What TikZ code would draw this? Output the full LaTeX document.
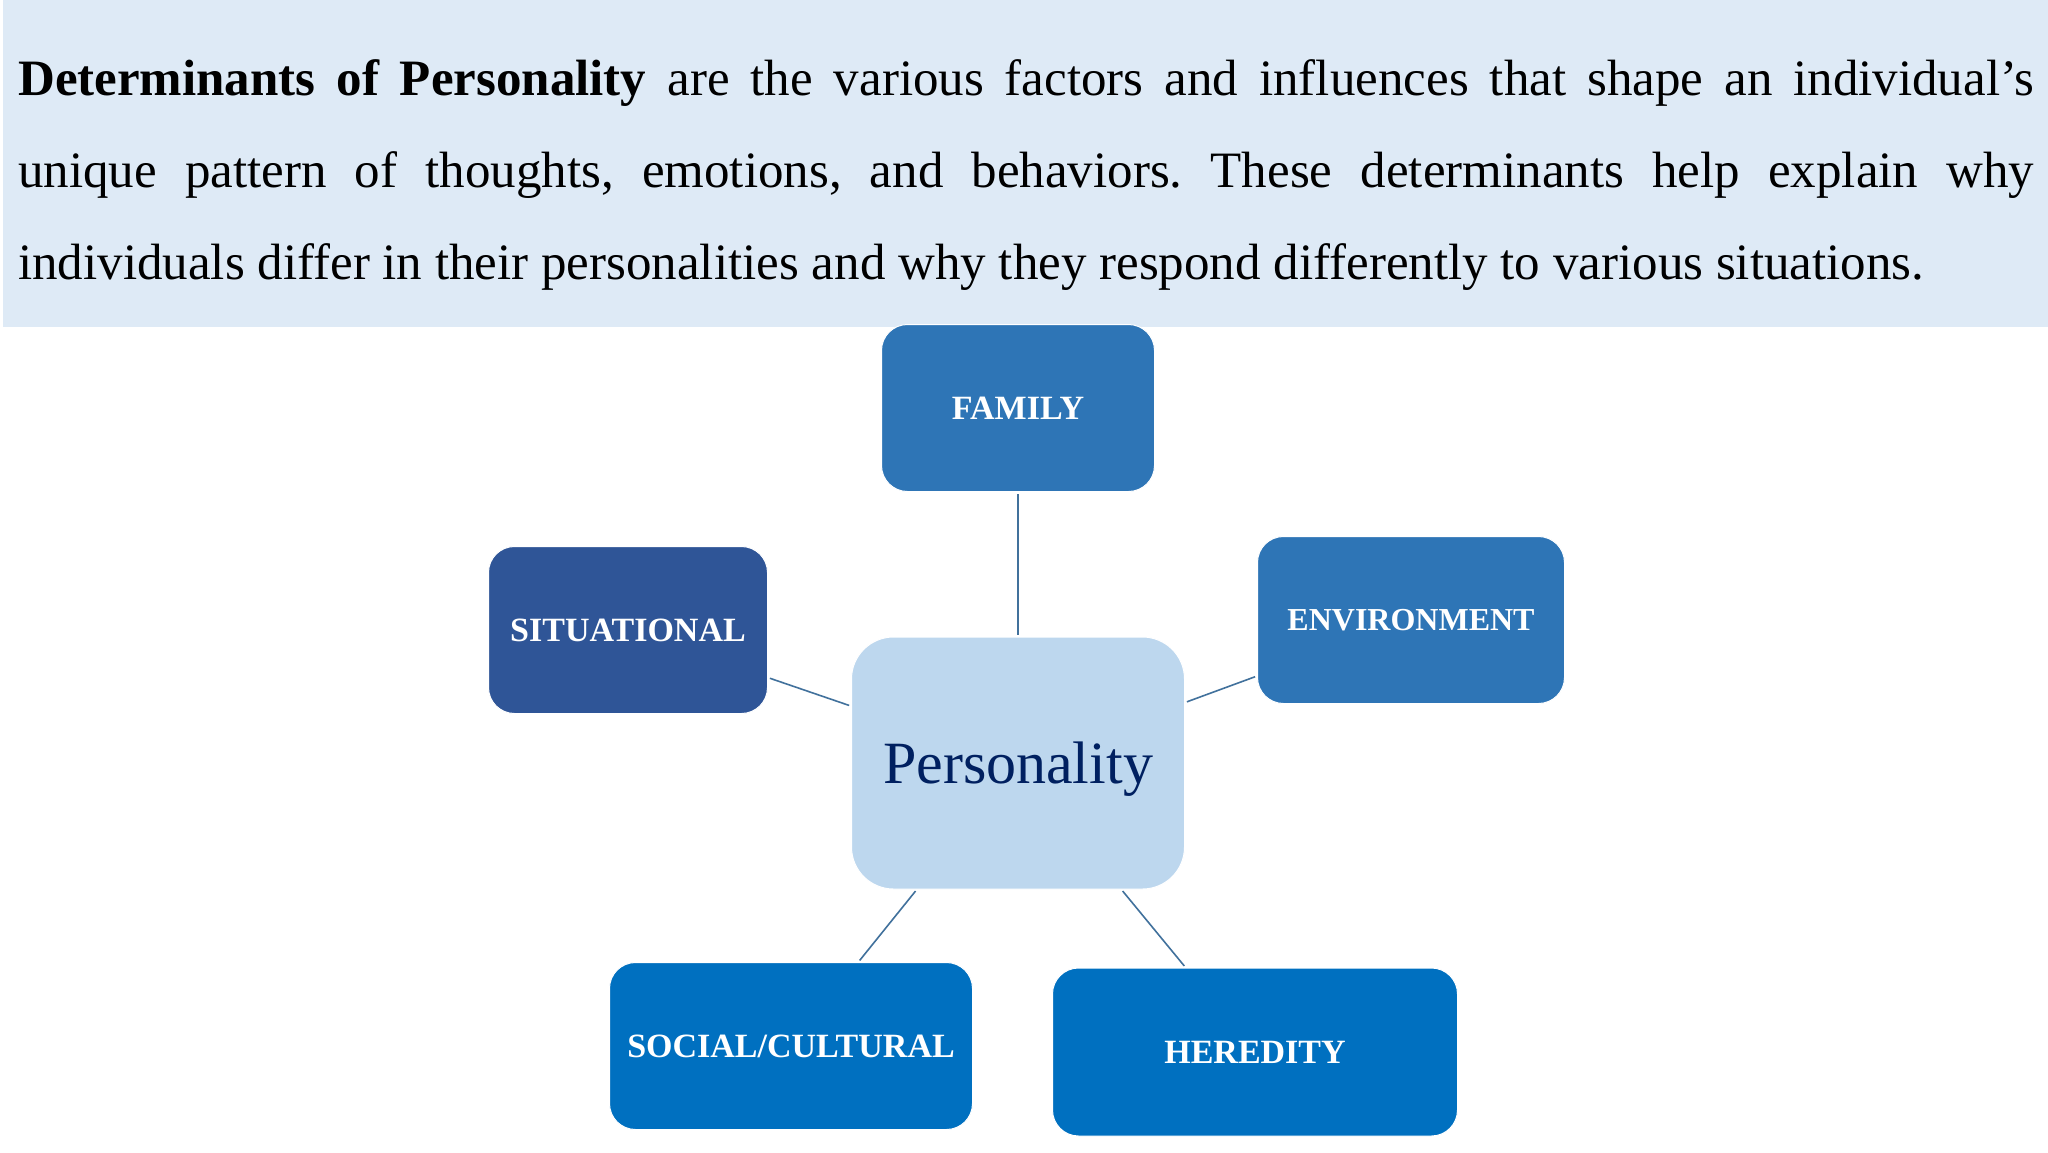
\documentclass[tikz,border=0pt]{standalone}
\usepackage{fontspec}
\setmainfont{Liberation Serif}
\frenchspacing
\definecolor{band}{HTML}{DEEAF6}
\definecolor{midblue}{HTML}{2E75B6}
\definecolor{darkblue}{HTML}{2F5597}
\definecolor{brightblue}{HTML}{0070C0}
\definecolor{paleblue}{HTML}{BDD7EE}
\definecolor{navy}{HTML}{002060}
\definecolor{linkcol}{HTML}{41719C}
\begin{document}
\begin{tikzpicture}[x=1pt,y=-1pt,
  factor/.style={rectangle, rounded corners=26pt, draw=white, line width=1pt, text=white,
    font=\fontsize{34}{38}\selectfont\bfseries, minimum height=167pt, inner sep=0pt},
  core/.style={rectangle, rounded corners=42pt, draw=white, line width=1pt, fill=paleblue,
    text=navy, font=\fontsize{60}{66}\selectfont, text depth=0pt, minimum width=333pt, minimum height=252pt, inner sep=0pt},
  link/.style={draw=linkcol, line width=1.6pt, shorten <=2pt, shorten >=2pt}]
\useasboundingbox (0,0) rectangle (2048,1152);
\fill[white] (0,0) rectangle (2048,1152);
\fill[band] (3,0) rectangle (2048,327);
\node[anchor=north west, inner sep=0pt, text width=2016pt, align=justify,
  font=\fontsize{51}{92}\selectfont] (para) at (18,59)
  {\textbf{Determinants of Personality} are the various factors and influences that shape an individual’s\linebreak
   unique pattern of thoughts, emotions, and behaviors. These determinants help explain why\linebreak
   individuals differ in their personalities and why they respond differently to various situations.};
\node[core] (pers) at (1018,763) {Personality};
\node[factor, fill=midblue, minimum width=273pt] (family) at (1018,408) {FAMILY};
\node[factor, fill=darkblue, minimum width=279pt] (situ) at (628,630) {SITUATIONAL};
\node[factor, fill=midblue, minimum width=307pt, font=\fontsize{32}{36}\selectfont\bfseries] (env) at (1411,620) {ENVIRONMENT};
\node[factor, fill=brightblue, minimum width=363pt] (soc) at (791,1046) {SOCIAL/CULTURAL};
\node[factor, fill=brightblue, minimum width=405pt, minimum height=168pt] (her) at (1255,1052) {HEREDITY};
\draw[link] (family) -- (pers);
\draw[link] (situ) -- (pers);
\draw[link] (env) -- (pers);
\draw[link] (soc) -- (pers);
\draw[link] (her) -- (pers);
\end{tikzpicture}
\end{document}
